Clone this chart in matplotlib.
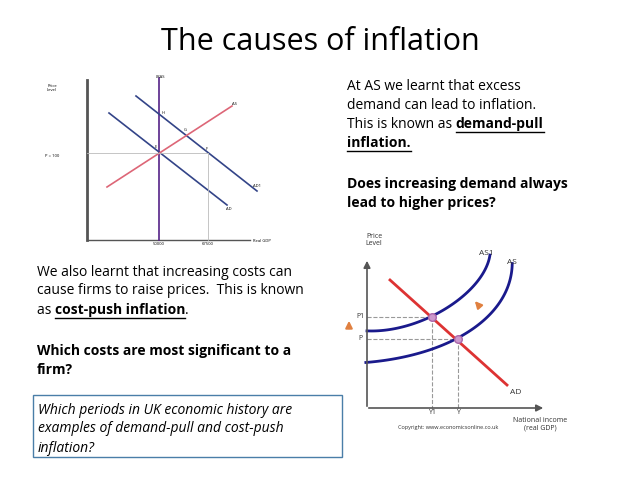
import matplotlib
matplotlib.use("Agg")
import matplotlib.pyplot as plt
import numpy as np

# Left diagram lines (pixel-space endpoints)
ad_x = [109, 227]; ad_y = [113, 205]
ad1_x = [136, 257]; ad1_y = [96, 191]
as_x = [107, 232]; as_y = [187, 106]
lras_x = [159, 159]; lras_y = [78, 240]
# Right diagram curves
rad_x = [390, 507]; rad_y = [280, 385]
as1_x = [367, 400, 432, 460, 480, 490]; as1_y = [331, 327, 317, 298, 278, 255]
as0_x = [367, 410, 458, 485, 503, 513]; as0_y = [362, 356, 339, 318, 295, 263]
p_levels = [317, 339]; y_levels = [432, 458]

fig = plt.figure(figsize=(6.38, 4.79), dpi=100)
ax = fig.add_axes([0, 0, 1, 1])
ax.set_xlim(0, 638); ax.set_ylim(479, 0); ax.axis('off')
F = 'Open Sans'

def smooth(xs, ys):
    t = np.linspace(0, 1, len(xs)); tt = np.linspace(0, 1, 100)
    px = np.polyfit(t, xs, 3); py = np.polyfit(t, ys, 3)
    return np.polyval(px, tt), np.polyval(py, tt)

ax.text(320, 42, "The causes of inflation", ha='center', va='center', fontsize=22, family=F)

# left diagram
ax.plot([87, 87], [80, 240], color='#555555', lw=2)
ax.plot([87, 250], [240, 240], color='#555555', lw=1)
ax.plot(lras_x, lras_y, color='#552288', lw=1.2)
ax.plot(ad_x, ad_y, color='#334488', lw=1.2)
ax.plot(ad1_x, ad1_y, color='#334488', lw=1.2)
ax.plot(as_x, as_y, color='#dd6677', lw=1.2)
ax.plot([87, 208], [153, 153], color='#bbbbbb', lw=0.6)
ax.plot([208, 208], [153, 240], color='#bbbbbb', lw=0.6)
for s, x, y in [("Price\nLevel", 52, 88), ("P = 100", 52, 156), ("50000", 159, 244), ("67500", 208, 244),
                ("Real GDP", 262, 241), ("AD1", 257, 186), ("H", 163, 113), ("G", 185, 130), ("F", 207, 149),
                ("E", 156, 147), ("AS", 234, 104), ("AD", 229, 209), ("LRAS", 160, 77)]:
    ax.text(x, y, s, fontsize=3, ha='center', va='center', family=F)

# right diagram
ax.annotate("", xy=(367, 258), xytext=(367, 409), arrowprops=dict(arrowstyle='-|>', color='#555555', lw=1.2))
ax.annotate("", xy=(546, 408), xytext=(366, 408), arrowprops=dict(arrowstyle='-|>', color='#555555', lw=1.2))
for p, yy in zip(p_levels, y_levels):
    ax.plot([367, yy], [p, p], '--', color='#999999', lw=0.8)
    ax.plot([yy, yy], [p, 408], '--', color='#999999', lw=0.8)
ax.plot(*smooth(as1_x, as1_y), color='#1a1a8c', lw=2)
ax.plot(*smooth(as0_x, as0_y), color='#1a1a8c', lw=2)
ax.plot(rad_x, rad_y, color='#dd3333', lw=2)
ax.scatter([432, 458], [317, 339], s=30, color='#cc99cc', edgecolor='#aa66aa', zorder=5)
ax.annotate("", xy=(473, 299), xytext=(480, 307), arrowprops=dict(arrowstyle='-|>', color='#e08040', lw=1.5))
ax.annotate("", xy=(349, 318), xytext=(349, 331), arrowprops=dict(arrowstyle='-|>', color='#e08040', lw=1.5))
for s, x, y, sz in [("Price\nLevel", 374, 240, 5), ("AS1", 486, 253, 6), ("AS", 512, 263, 6), ("AD", 516, 393, 6),
                    ("P1", 360, 317, 5), ("P", 360, 339, 5), ("Y1", 432, 412, 5), ("Y", 458, 412, 5),
                    ("National income\n(real GDP)", 540, 424, 5), ("Copyright: www.economicsonline.co.uk", 448, 427, 4)]:
    ax.text(x, y, s, fontsize=sz, ha='center', va='center', family=F, color='#333333', linespacing=1.1)

fig.canvas.draw()
r = fig.canvas.get_renderer()
inv = ax.transData.inverted()

def line(parts, x, y, size=10):
    for s, w, u, it in parts:
        t = ax.text(x, y, s, fontsize=size, weight=w, style=it, va='center', ha='left', family=F)
        bb = t.get_window_extent(r)
        x1 = inv.transform((bb.x1, bb.y0))[0]
        if u:
            ax.plot([x, x1], [y + 8, y + 8], color='black', lw=1)
        x = x1

N = ('normal', False, 'normal')
def n(s): return (s, 'normal', False, 'normal')
def b(s): return (s, 'bold', False, 'normal')
def bu(s): return (s, 'bold', True, 'normal')
def i(s): return (s, 'normal', False, 'italic')

line([n("At AS we learnt that excess")], 347, 86)
line([n("demand can lead to inflation.")], 347, 105)
line([n("This is known as "), bu("demand-pull")], 347, 124)
line([bu("inflation.")], 347, 143)
line([b("Does increasing demand always")], 347, 184)
line([b("lead to higher prices?")], 347, 203)

line([n("We also learnt that increasing costs can")], 37, 272)
line([n("cause firms to raise prices.  This is known")], 37, 291)
line([n("as "), bu("cost-push inflation"), n(".")], 37, 310)
line([b("Which costs are most significant to a")], 37, 351)
line([b("firm?")], 37, 370)

ax.add_patch(plt.Rectangle((33, 395), 309, 62, fill=False, edgecolor='#4a7ea8', lw=1))
line([i("Which periods in UK economic history are")], 38, 410)
line([i("examples of demand-pull and cost-push")], 38, 429)
line([i("inflation?")], 38, 448)

fig.savefig("out.png", dpi=100)
